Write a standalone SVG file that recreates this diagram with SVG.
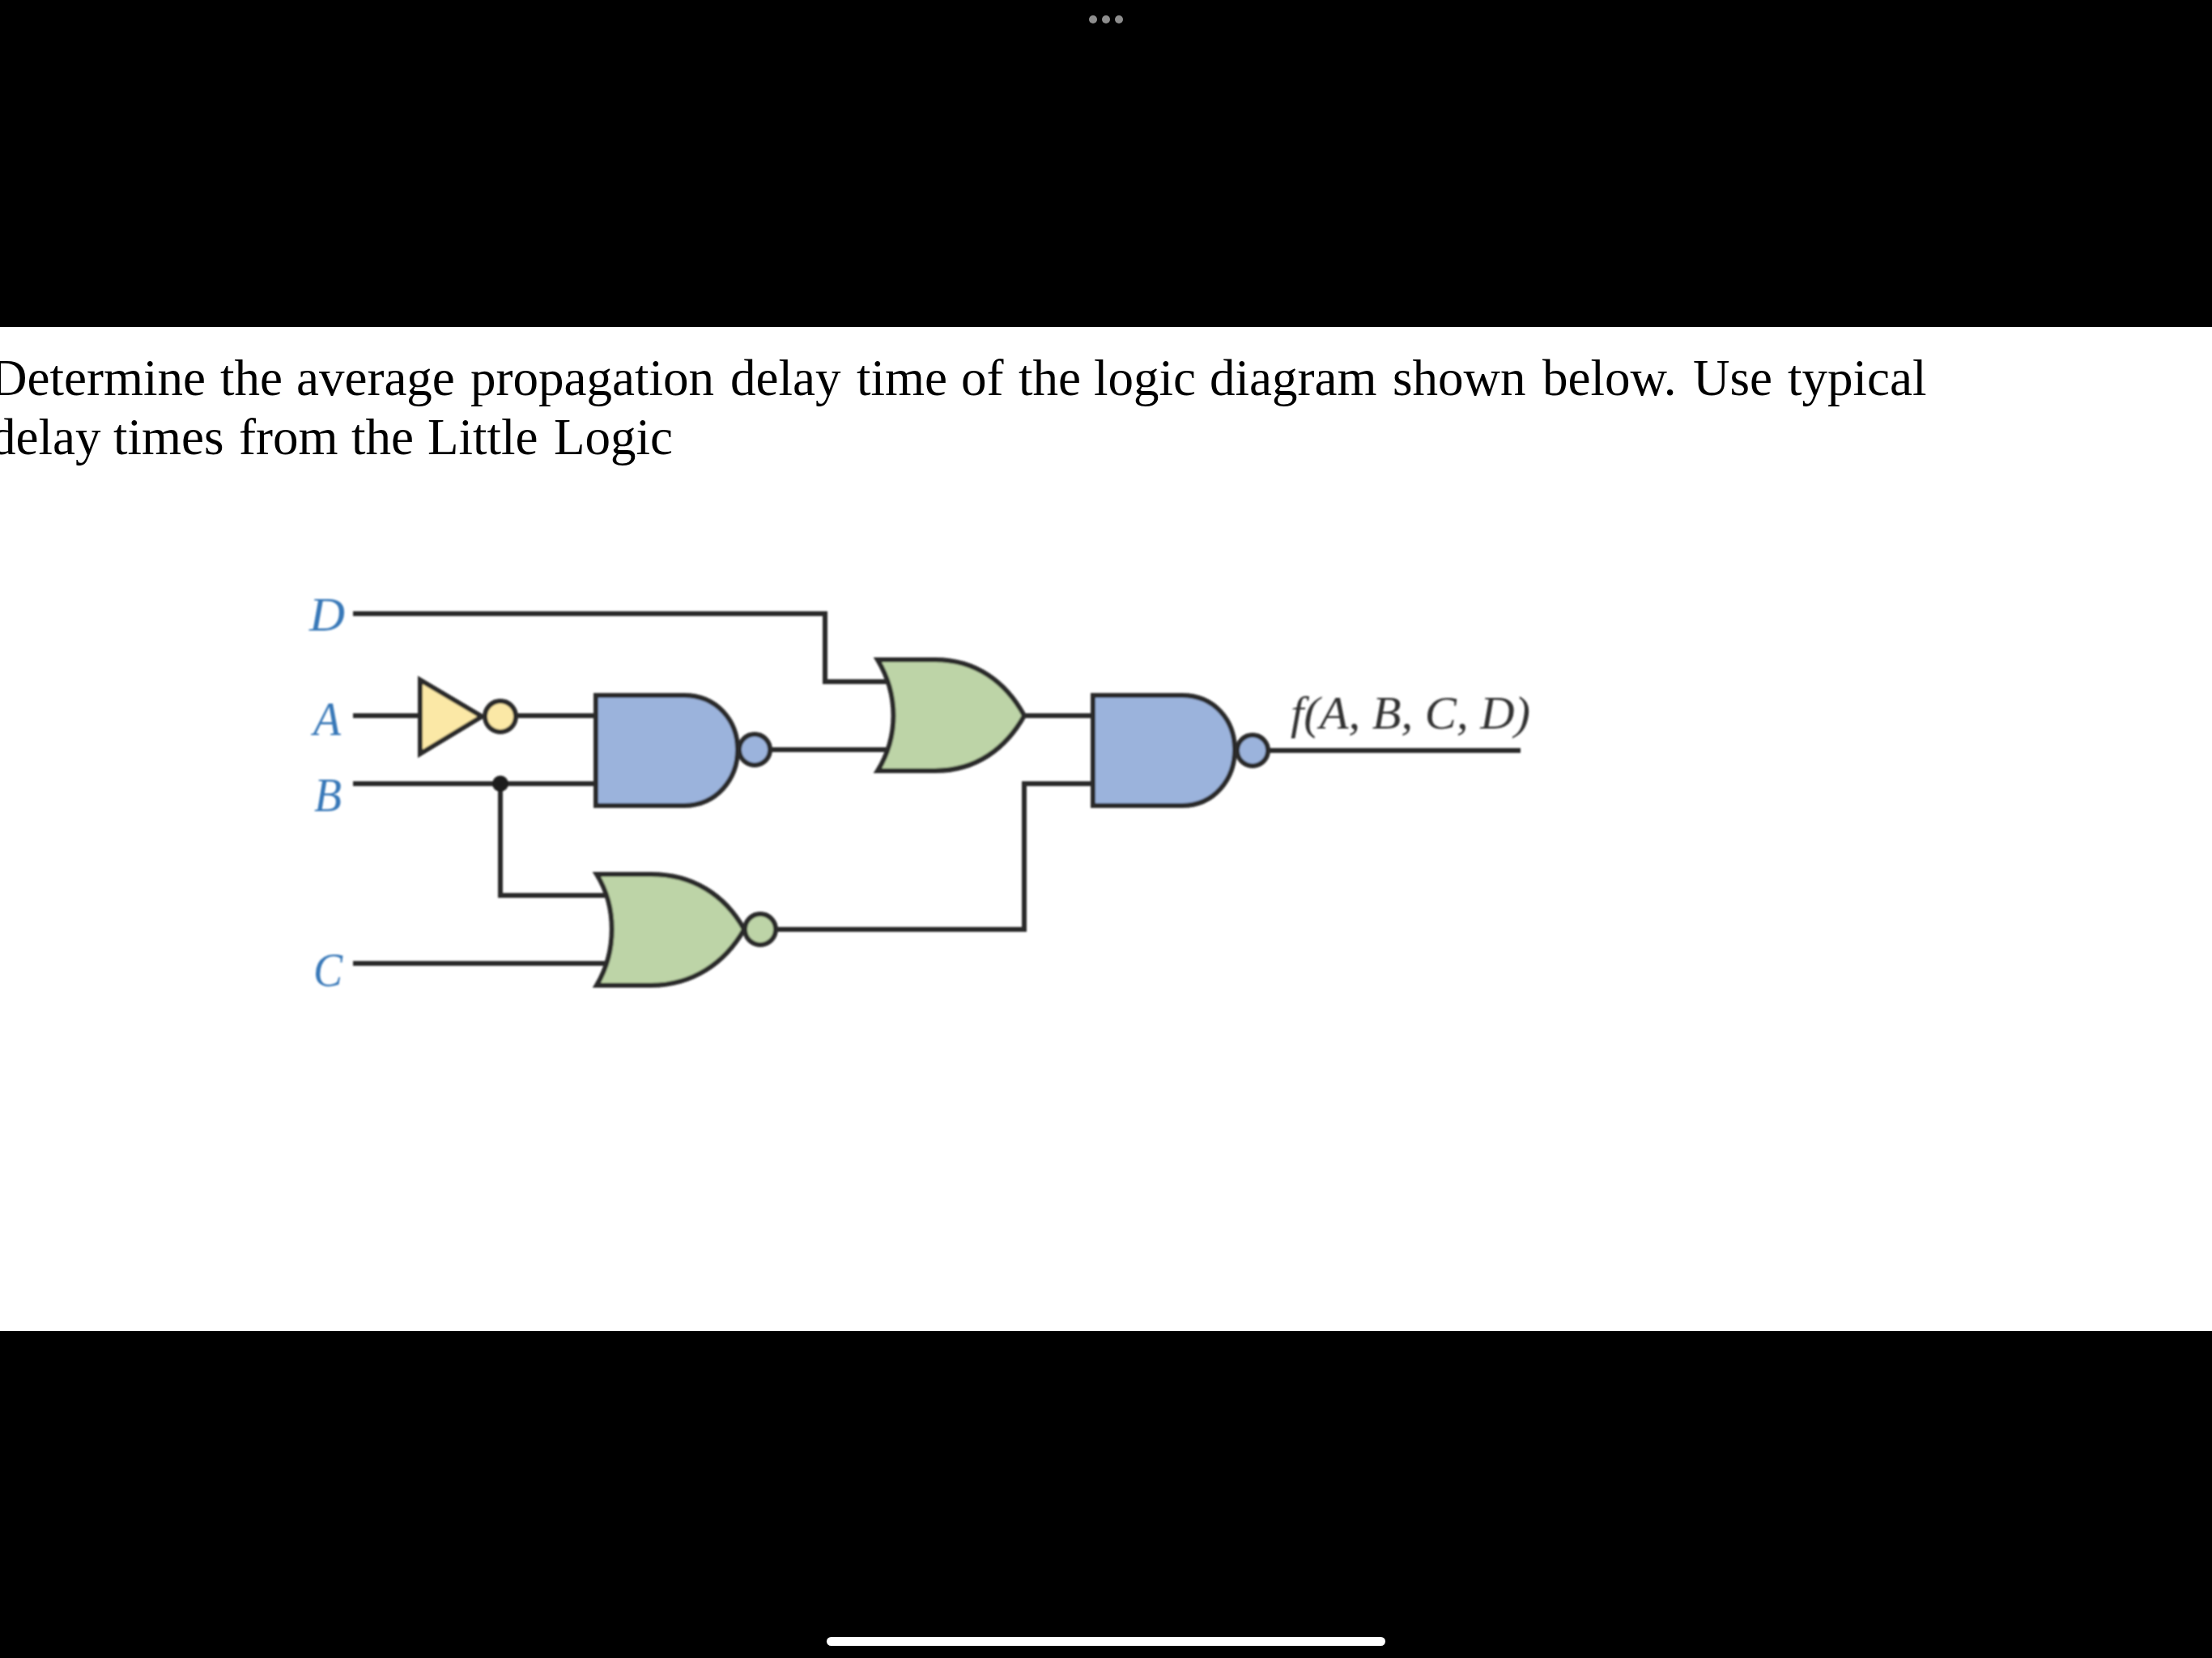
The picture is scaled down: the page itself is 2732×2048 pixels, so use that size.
<svg xmlns="http://www.w3.org/2000/svg" width="2732" height="2048" viewBox="0 0 2732 2048">
<defs><filter id="soft" x="-5%" y="-5%" width="110%" height="110%"><feGaussianBlur stdDeviation="0.9"/></filter></defs>
<style>
.band{fill:#000}
.q{font-family:"Liberation Serif","Times New Roman",serif;font-size:63px;fill:#000}
.in{font-family:"Liberation Serif","Times New Roman",serif;font-style:italic;font-size:60px;fill:#3878b8}
.out{font-family:"Liberation Serif","Times New Roman",serif;font-style:italic;font-size:58px;fill:#333}
.w{fill:none;stroke:#2b2b2b;stroke-width:6;stroke-linejoin:miter}
.g{stroke:#2b2b2b;stroke-width:6;stroke-linejoin:miter}
.blue{fill:#9bb3dc}.green{fill:#bdd4a7}.yellow{fill:#fbe8a6}
</style>
<rect width="2732" height="2048" fill="#fff"/>
<rect class="band" width="2732" height="404"/>
<rect class="band" y="1644" width="2732" height="404"/>
<g fill="#8e8e8e"><circle cx="1350" cy="24" r="5"/><circle cx="1366" cy="24" r="5"/><circle cx="1382" cy="24" r="5"/></g>
<rect x="1021" y="2022" width="690" height="11" rx="5.5" fill="#fff"/>
<text class="q" y="488"><tspan x="-12">Determine </tspan><tspan x="272">the </tspan><tspan x="366">average </tspan><tspan x="581">propagation </tspan><tspan x="902">delay </tspan><tspan x="1058">time </tspan><tspan x="1187">of </tspan><tspan x="1258">the </tspan><tspan x="1351">logic </tspan><tspan x="1494">diagram </tspan><tspan x="1720">shown </tspan><tspan x="1905">below. </tspan><tspan x="2091">Use </tspan><tspan x="2208">typical</tspan></text>
<text class="q" y="561"><tspan x="-12">delay </tspan><tspan x="140">times </tspan><tspan x="295">from </tspan><tspan x="434">the </tspan><tspan x="528">Little </tspan><tspan x="684">Logic</tspan></text>
<g filter="url(#soft)">
<g id="connectors">
<path class="w" d="M436 758H1019V842H1098"/>
<path class="w" d="M436 884H519"/>
<path class="w" d="M637 884H735"/>
<path class="w" d="M436 968H735"/>
<path class="w" d="M618 968V1106H750"/>
<path class="w" d="M436 1190H750"/>
<path class="w" d="M952 926H1100"/>
<path class="w" d="M958 1148H1265V968H1350"/>
<path class="w" d="M1265 884H1350"/>
<path class="w" d="M1567 927H1878"/>
<circle cx="618" cy="968" r="10" fill="#1e1e1e"/>
</g>
<g id="inv"><path class="g yellow" d="M519 840V931L595 885Z"/><circle class="g yellow" cx="618" cy="885" r="19"/></g>
<g id="nand1"><path class="g blue" d="M736 859H845C885 859 911 890 911 926C911 962 885 995 845 995H736Z"/><circle class="g blue" cx="932" cy="926" r="19"/></g>
<g id="nor1"><path class="g green" d="M737 1080H804C855 1080 895 1105 919 1148C895 1190 855 1217 804 1217H737C762 1175 762 1120 737 1080Z"/><circle class="g green" cx="939" cy="1148" r="19"/></g>
<g id="or1"><path class="g green" d="M1084 815H1155C1205 815 1242 842 1265 884C1242 925 1205 952 1155 952H1084C1110 910 1110 858 1084 815Z"/></g>
<g id="nand2"><path class="g blue" d="M1350 859H1460C1500 859 1525 890 1525 926C1525 962 1500 995 1460 995H1350Z"/><circle class="g blue" cx="1547" cy="927" r="19"/></g>
<text class="in" x="382" y="779" textLength="44" lengthAdjust="spacingAndGlyphs">D</text>
<text class="in" x="387" y="908" textLength="34" lengthAdjust="spacingAndGlyphs">A</text>
<text class="in" x="388" y="1002" textLength="34" lengthAdjust="spacingAndGlyphs">B</text>
<text class="in" x="387" y="1218" textLength="36" lengthAdjust="spacingAndGlyphs">C</text>
<text class="out" x="1594" y="900" textLength="296" lengthAdjust="spacingAndGlyphs">f(A, B, C, D)</text>
</g>
</svg>
